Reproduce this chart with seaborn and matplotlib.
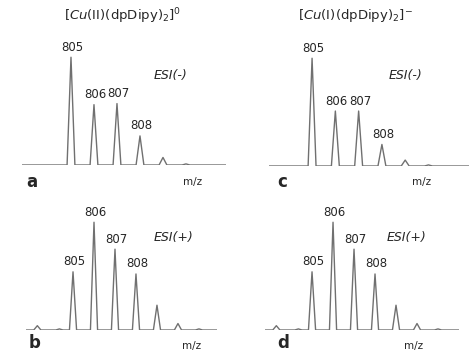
"""Isotope patterns of the Cu(dpDipy)2 complexes, ESI(-) and ESI(+) spectra.

    python plot.py   -> out.png
"""
import matplotlib
matplotlib.use("Agg")
import matplotlib.pyplot as plt
import numpy as np
import pandas as pd
import seaborn as sns

# peak centroids (m/z) and relative intensities (%)
MZ_NEG = [805, 806, 807, 808, 809, 810]
INT_A = [100, 56, 57, 27, 7, 1]          # [Cu(II)(dpDipy)2]0, ESI(-)
INT_C = [100, 51, 51, 20, 5.5, 1]        # [Cu(I)(dpDipy)2]-, ESI(-)

MZ_POS = [803.3, 804.35, 805, 806, 807, 808, 809, 810, 811]
INT_B = [4, 1, 54, 100, 75, 52, 23, 6, 1]  # ESI(+)
INT_D = [4, 1, 54, 100, 75, 52, 23, 6, 1]  # ESI(+)

LABELLED = ["805", "806", "807", "808"]
TITLES = [r"[$\mathit{Cu}$(II)(dpDipy)$_2$]$^0$", r"[$\mathit{Cu}$(I)(dpDipy)$_2$]$^{-}$"]

W, H = 474, 360
LINE = "#707070"
HALF = 0.17   # half width of a peak at its base, in m/z units

sns.set_theme(style="white")
plt.rcParams["font.family"] = ["DejaVu Sans"]


def profile(mz, inten, lo, hi):
    """Stick spectrum -> triangular profile running along the baseline."""
    xs, ys = [lo], [0.0]
    for m, h in sorted(zip(mz, inten)):
        xs += [m - HALF, m, m + HALF]
        ys += [0.0, h, 0.0]
    xs.append(hi)
    ys.append(0.0)
    return pd.DataFrame({"mz": xs, "intensity": ys})


def px_axes(fig, left, right, base, top):
    return fig.add_axes([left / W, 1 - base / H, (right - left) / W, (base - top) / H])


def panel(fig, rect, xlim, mz, inten, labels, esi, esi_xy, letter, letter_xy, mz_xy):
    ax = px_axes(fig, *rect)
    df = profile(mz, inten, *xlim)
    sns.lineplot(data=df, x="mz", y="intensity", sort=False, estimator=None,
                 color=LINE, linewidth=1.0, ax=ax)
    ax.set_xlim(*xlim)
    ax.set_ylim(0, 116)
    ax.axis("off")
    for m, h in zip(mz, inten):
        if str(int(m)) in labels and float(m).is_integer():
            ax.annotate(str(int(m)), (m, h), xytext=(1, 2.5), textcoords="offset points",
                        ha="center", va="bottom", fontsize=8.5)
    fig.text(esi_xy[0] / W, 1 - esi_xy[1] / H, esi, style="italic",
             ha="center", va="center", fontsize=9)
    fig.text(letter_xy[0] / W, 1 - letter_xy[1] / H, letter, fontweight="bold",
             ha="center", va="center", fontsize=12)
    fig.text(mz_xy[0] / W, 1 - mz_xy[1] / H, "m/z",
             ha="center", va="center", fontsize=7.5)
    return ax


fig = plt.figure(figsize=(W / 100, H / 100), dpi=100)

panel(fig, (22, 226, 165, 40), (802.87, 811.74), MZ_NEG, INT_A, LABELLED,
      "ESI(-)", (171, 76), "a", (32, 182), (193, 182))
panel(fig, (269, 469, 166, 41), (803.15, 811.74), MZ_NEG, INT_C, LABELLED,
      "ESI(-)", (406, 75), "c", (282, 182), (422, 182))
panel(fig, (26, 217, 330, 205), (802.76, 811.86), MZ_POS, INT_B, LABELLED,
      "ESI(+)", (174, 238), "b", (35, 343), (192, 346))
panel(fig, (265, 459, 330, 205), (802.76, 812.0), MZ_POS, INT_D, LABELLED,
      "ESI(+)", (407, 237), "d", (283, 343), (414, 346))

fig.text(123 / W, 1 - 16 / H, TITLES[0], ha="center", va="center", fontsize=9.5)
fig.text(355 / W, 1 - 16 / H, TITLES[1], ha="center", va="center", fontsize=9.5)

fig.savefig("out.png", dpi=100)
